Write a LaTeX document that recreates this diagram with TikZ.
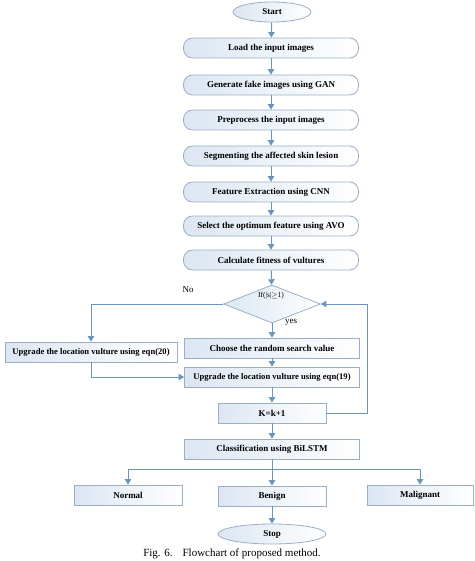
\documentclass[tikz,border=0pt]{standalone}
\usepackage{fontspec}
\setmainfont{Liberation Serif}
\usetikzlibrary{arrows.meta,shapes.geometric}
\definecolor{edgeblue}{HTML}{6A96BE}
\definecolor{boxline}{HTML}{9AAFC4}
\definecolor{boxfill}{HTML}{DCE6F2}
\begin{document}
\begin{tikzpicture}[x=1pt, y=-1pt,
    font=\fontsize{9}{10.5}\selectfont\bfseries,
    stepbox/.style={draw=boxline, line width=0.8pt, left color=boxfill, right color=white, minimum height=20pt, inner sep=1pt},
    roundbox/.style={stepbox, rounded corners=9pt, minimum width=175pt},
    flatbox/.style={stepbox, minimum width=175pt},
    smallbox/.style={stepbox, minimum width=108pt},
    eqnfont/.style={font=\fontsize{8.6}{9.5}\selectfont\bfseries},
    endpoint/.style={ellipse, draw=boxline, line width=0.8pt, left color=boxfill, right color=white, minimum height=20pt, inner sep=1pt},
    flow/.style={draw=edgeblue, line width=1pt, -{Triangle[length=5.5pt,width=6.5pt]}},
    plain/.style={draw=edgeblue, line width=1pt}]
    \useasboundingbox (0,0) rectangle (474,561);

    % Start and main steps
    \node[endpoint, minimum width=78pt] (start) at (272,12) {Start};
    \node[roundbox] (load) at (271,48) {Load the input images};
    \node[roundbox] (gan) at (271,85) {Generate fake images using GAN};
    \node[roundbox] (prep) at (271,120) {Preprocess the input images};
    \node[roundbox] (seg) at (271,156) {Segmenting the affected skin lesion};
    \node[roundbox] (feat) at (271,192) {Feature Extraction using CNN};
    \node[roundbox] (avo) at (271,226) {Select the optimum feature using AVO};
    \node[roundbox] (fit) at (271,260) {Calculate fitness of vultures};

    % Decision
    \node[diamond, draw=boxline, line width=0.8pt, left color=boxfill, right color=white, minimum width=97pt, minimum height=38pt, aspect=2.55, inner sep=0pt] (cond) at (272,304) {};
    \node[font=\fontsize{7.5}{8.5}\selectfont] (condtext) at (271,296) {If(|s|$\geq$1)};
    \node[font=\fontsize{9}{10}\selectfont\mdseries] (no) at (188,290) {No};
    \node[font=\fontsize{9}{10}\selectfont\mdseries] (yes) at (291,322) {yes};

    % Vulture update
    \node[flatbox, eqnfont, minimum width=172pt] (eqtwenty) at (91,352) {Upgrade the location vulture using eqn(20)};
    \node[flatbox] (search) at (272,348) {Choose the random search value};
    \node[flatbox, eqnfont] (eqnineteen) at (272,377) {Upgrade the location vulture using eqn(19)};
    \node[smallbox] (count) at (272,413) {K=k+1};

    % Classification
    \node[flatbox] (bilstm) at (272,449) {Classification using BiLSTM};
    \node[smallbox] (normal) at (128,495) {Normal};
    \node[smallbox] (benign) at (272,496) {Benign};
    \node[smallbox, minimum width=106pt] (malig) at (420,495) {Malignant};
    \node[endpoint, minimum width=108pt] (stop) at (272,534) {Stop};

    \node[font=\fontsize{11}{12}\selectfont\mdseries] (caption) at (232,554) {Fig. 6.\hspace{10pt}Flowchart of proposed method.};

    % Arrows
    \draw[flow] (start) -- (load);
    \draw[flow] (load) -- (gan);
    \draw[flow] (gan) -- (prep);
    \draw[flow] (prep) -- (seg);
    \draw[flow] (seg) -- (feat);
    \draw[flow] (feat) -- (avo);
    \draw[flow] (avo) -- (fit);
    \draw[flow] (fit) -- (cond);
    \draw[flow] (cond.south) -- (search);
    \draw[flow] (cond.west) -| (eqtwenty.north);
    \draw[flow] (eqtwenty.south) |- (eqnineteen.west);
    \draw[flow] (search) -- (eqnineteen);
    \draw[flow] (eqnineteen) -- (count);
    \draw[flow] (count.east) -- ++(41,0) |- (cond.east);
    \draw[flow] (count) -- (bilstm);
    \draw[plain] (bilstm.south) -- ++(0,10) coordinate (split);
    \draw[flow] (split) -| (normal.north);
    \draw[flow] (split) -| (malig.north);
    \draw[flow] (split) -- (benign);
    \draw[flow] (benign) -- (stop);
\end{tikzpicture}
\end{document}
